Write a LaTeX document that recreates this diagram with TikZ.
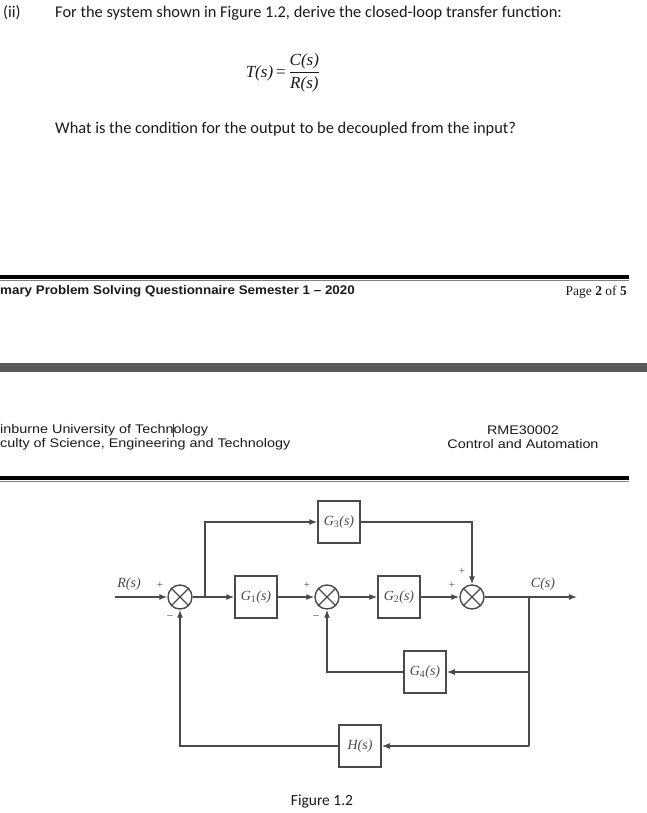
\documentclass[tikz,border=0pt]{standalone}
\usepackage{fontspec}
\usepackage{amsmath}
\setmainfont{Carlito}
\newfontfamily\arial{Liberation Sans}
\newfontfamily\arialw[FakeStretch=1.15]{Liberation Sans}
\newfontfamily\arialf[FakeStretch=1.07]{Liberation Sans}
\newfontfamily\tnr{Liberation Serif}
\usetikzlibrary{arrows.meta}
\definecolor{lc}{HTML}{4A4A4A}
\definecolor{band}{HTML}{5A5A5A}
\definecolor{txt}{HTML}{1A1A1A}
\begin{document}
\begin{tikzpicture}[x=1pt,y=-1pt,
  body/.style={anchor=west,inner sep=0pt,text=txt,font=\fontsize{16.4}{19}\selectfont},
  hdr/.style={inner sep=0pt,text=txt,font=\arialw\fontsize{12.5}{14}\selectfont},
  blk/.style={draw=lc,line width=1.5pt,minimum width=42pt,minimum height=42pt,inner sep=0pt,text=lc,font=\tnr\fontsize{14}{16}\selectfont\itshape},
  sumj/.style={circle,draw=lc,line width=1.4pt,minimum size=24pt,inner sep=0pt},
  lbl/.style={inner sep=0pt,text=lc,font=\tnr\fontsize{14}{16}\selectfont\itshape},
  sgn/.style={inner sep=0pt,text=lc,font=\tnr\fontsize{11}{12}\selectfont},
  con/.style={draw=lc,line width=1.3pt},
  arr/.style={con,-{Latex[length=8pt,width=6pt]}}]
\useasboundingbox (0,0) rectangle (647,813);
% question text
\node[body] (ii) at (3,13) {(ii)};
\node[body] (q1) at (55,13) {For the system shown in Figure 1.2, derive the closed-loop transfer function:};
\node[inner sep=0pt,text=txt,font=\tnr\fontsize{17}{20}\selectfont] (tf) at (283,73)
  {$\mbox{\itshape T(s)}\,\mbox{=}\,\dfrac{\mbox{\itshape C(s)}}{\mbox{\itshape R(s)}}$};
\node[body] (q2) at (55,129) {What is the condition for the output to be decoupled from the input?};
% footer / header rules
\draw[line width=3.5pt,black] (0,277) -- (629,277);
\draw[line width=1pt,gray] (0,280.5) -- (629,280.5);
\node[hdr,anchor=west,font=\arialf\bfseries\fontsize{12.5}{14}\selectfont] (foot) at (0,291) {mary Problem Solving Questionnaire Semester 1 – 2020};
\node[inner sep=0pt,anchor=east,text=txt,font=\tnr\fontsize{13.5}{15}\selectfont] (pg) at (627,292) {Page \textbf{2} of \textbf{5}};
\fill[band] (0,363) rectangle (647,372);
\node[hdr,anchor=west] (uni) at (0,430) {inburne University of Techn\makebox[0pt]{\textcolor{black!70!orange}{\rule[-3pt]{0.8pt}{13pt}}}ology};
\node[hdr,anchor=west] (fac) at (0,444) {culty of Science, Engineering and Technology};
\node[hdr] (code) at (523,430) {RME30002};
\node[hdr] (unit) at (523,444) {Control and Automation};
\draw[line width=3.5pt,black] (0,478) -- (629,478);
\draw[line width=1pt,gray] (0,481.5) -- (629,481.5);
% block diagram
\node[sumj] (s1) at (180,597) {};
\node[sumj] (s2) at (327,597) {};
\node[sumj] (s3) at (472,597) {};
\foreach \s in {s1,s2,s3}{
  \draw[lc,line width=1.2pt] (\s.north west) -- (\s.south east) (\s.north east) -- (\s.south west);}
\node[blk] (g1) at (256,597) {G\textsubscript{\upshape 1}(s)};
\node[blk] (g2) at (399,597) {G\textsubscript{\upshape 2}(s)};
\node[blk] (g3) at (339,522) {G\textsubscript{\upshape 3}(s)};
\node[blk] (g4) at (425,672) {G\textsubscript{\upshape 4}(s)};
\node[blk] (h) at (360,746) {H(s)};
\coordinate (in) at (115,597);
\coordinate (b1) at (205,597);
\coordinate (out) at (577,597);
\coordinate (b2) at (529,597);
\coordinate (b3) at (529,672);
\coordinate (b4) at (529,746);
\draw[arr] (in) -- (s1);
\draw[arr] (s1) -- (g1);
\draw[arr] (b1) |- (g3);
\draw[arr] (g1) -- (s2);
\draw[arr] (s2) -- (g2);
\draw[arr] (g2) -- (s3);
\draw[arr] (g3) -| (s3);
\draw[arr] (s3) -- (out);
\draw[con] (b2) -- (b4);
\draw[arr] (b3) -- (g4);
\draw[arr] (g4) -| (s2);
\draw[arr] (b4) -- (h);
\draw[arr] (h) -| (s1);
\node[lbl] (rl) at (129,584) {R(s)};
\node[lbl] (cl) at (543,584) {C(s)};
\node[sgn] (p1) at (160,585) {+};
\node[sgn] (m1) at (170,617) {\textendash};
\node[sgn] (p2) at (307,585) {+};
\node[sgn] (m2) at (316,617) {\textendash};
\node[sgn] (p3) at (462,571) {+};
\node[sgn] (p4) at (452,585) {+};
\node[inner sep=0pt,text=txt,font=\fontsize{15.5}{18}\selectfont] (fig) at (322,801) {Figure 1.2};
\end{tikzpicture}
\end{document}
